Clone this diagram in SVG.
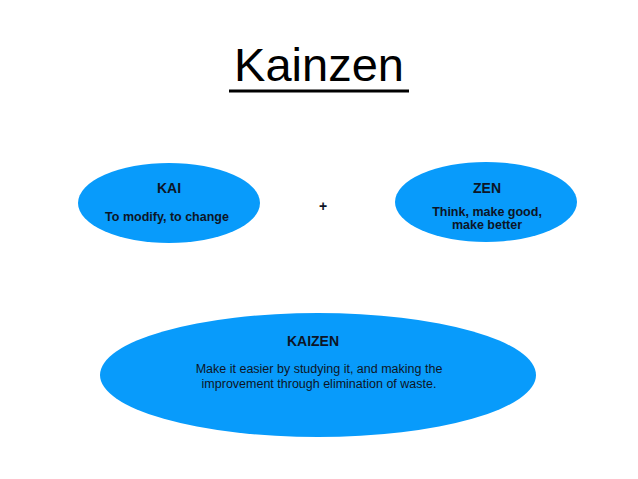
<svg xmlns="http://www.w3.org/2000/svg" width="638" height="479" viewBox="0 0 638 479">
<style>
.bubble{fill:#089bfb;stroke:none}
.t{font-family:"Liberation Sans",Arial,sans-serif;fill:#0d1526;text-anchor:middle}
.h{font-weight:bold;font-size:14px}
.sb{font-weight:bold;font-size:12.5px}
.n{font-size:12.5px}
</style>
<rect width="638" height="479" fill="#fff"/>
<g id="title">
<text x="319" y="81" font-family="Liberation Sans,Arial,sans-serif" font-size="47" fill="#000" text-anchor="middle">Kainzen</text>
<rect x="229" y="89.5" width="180" height="3" fill="#000"/>
</g>
<g id="kai">
<ellipse class="bubble" cx="169" cy="203" rx="91" ry="40"/>
<text class="t h" x="169" y="193">KAI</text>
<text class="t sb" x="167" y="221">To modify, to change</text>
</g>
<g id="plus">
<text class="t h" x="323" y="211">+</text>
</g>
<g id="zen">
<ellipse class="bubble" cx="486" cy="202" rx="91" ry="40"/>
<text class="t h" x="487" y="193">ZEN</text>
<text class="t sb" x="487" y="216">Think, make good,</text>
<text class="t sb" x="487" y="229">make better</text>
</g>
<g id="kaizen">
<ellipse class="bubble" cx="318" cy="375" rx="218" ry="62"/>
<text class="t h" x="313" y="346">KAIZEN</text>
<text class="t n" x="319" y="373">Make it easier by studying it, and making the</text>
<text class="t n" x="319" y="388">improvement through elimination of waste.</text>
</g>
<g id="connectors"/>
</svg>
